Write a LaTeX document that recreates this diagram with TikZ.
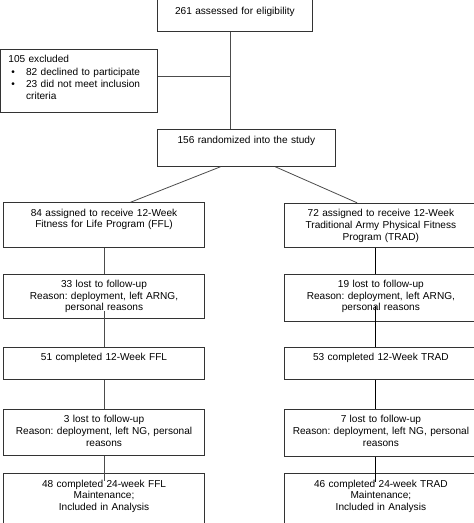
\documentclass[tikz,border=0pt]{standalone}
\usepackage{fontspec}
\setmainfont{Liberation Sans}
\frenchspacing
\begin{document}
\frenchspacing
\begin{tikzpicture}[x=1pt,y=-1pt,
  box/.style={draw=black!80, line width=0.8pt, inner xsep=0pt, inner ysep=0pt,
    align=center, anchor=north west, font=\fontsize{10.1}{11.7}\selectfont\frenchspacing, text height=13.5pt},
  link/.style={draw=black!70, line width=0.8pt},
  rlink/.style={draw=black, line width=0.8pt}]
\clip (0,0) rectangle (474,523);
\fill[white] (0,0) rectangle (474,523);

\node[box, text width=154.4pt, text height=19pt, text depth=17pt] (top) at (157.3,-5) {261 assessed for eligibility};
\node[box, align=left, inner xsep=7.5pt, text width=141.5pt, text depth=49.5pt,
  font=\fontsize{10.1}{12.2}\selectfont] (excl) at (0.5,49)
  {105 excluded\\
   \hspace*{3pt}\makebox[14.7pt][l]{\textbullet}82 declined to participate\\
   \hspace*{3pt}\makebox[14.7pt][l]{\textbullet}23 did not meet inclusion\\
   \hspace*{17.7pt}criteria};
\node[box, text width=178pt, text height=14.5pt, text depth=22.5pt] (rand) at (157,129) {156 randomized into the study};

\node[box, text width=200.7pt, text depth=30.9pt] (ffl) at (3.3,202.3) {84 assigned to receive 12-Week\\Fitness for Life Program (FFL)};
\node[box, text width=194pt, text depth=30.5pt] (trad) at (283.5,202.8) {72 assigned to receive 12-Week\\Traditional Army Physical Fitness\\Program (TRAD)};

\node[box, text width=200.7pt, text depth=31pt] (l33) at (3.3,273.5) {33 lost to follow-up\\Reason: deployment, left ARNG,\\personal reasons};
\node[box, text width=194pt, text depth=34pt] (l19) at (283.5,273.5) {19 lost to follow-up\\Reason: deployment, left ARNG,\\personal reasons};

\node[box, text width=200.7pt, text depth=19pt] (c51) at (3.3,346.5) {51 completed 12-Week FFL};
\node[box, text width=194pt, text depth=19pt] (c53) at (283.5,346.5) {53 completed 12-Week TRAD};

\node[box, text width=200.7pt, text depth=32.5pt] (l3) at (3.3,409) {3 lost to follow-up\\Reason: deployment, left NG, personal\\reasons};
\node[box, text width=194pt, text depth=33.5pt] (l7) at (283.5,409) {7 lost to follow-up\\Reason: deployment, left NG, personal\\reasons};

\node[box, text width=200.7pt, text depth=60pt] (c48) at (3.3,473.3) {48 completed 24-week FFL\\Maintenance;\\Included in Analysis};
\node[box, text width=194pt, text depth=60pt] (c46) at (283.5,473.3) {46 completed 24-week TRAD\\Maintenance;\\Included in Analysis};

\coordinate (v) at ([xshift=-5pt]top.south);
\draw[link] (v) -- (v |- rand.north);
\draw[link] ([yshift=4.5pt]excl.east) -- ([yshift=4.5pt]excl.east -| v);
\draw[link] ([xshift=-26pt]rand.south) -- ([xshift=26.35pt]ffl.north);
\draw[link] ([xshift=29pt]rand.south) -- ([xshift=-23.8pt]trad.north);

\draw[link] (ffl.south) -- (l33.north);
\draw[link] ([yshift=8pt]l33.south) -- (c51.north);
\draw[link] (c51.south) -- (l3.north);
\draw[link] (l3.south) -- ([yshift=-8pt]c48.north);

\draw[rlink] ([xshift=-5.5pt]trad.south) -- ([xshift=-5.5pt]l19.north);
\draw[rlink] ([xshift=-5.5pt,yshift=16pt]l19.south) -- ([xshift=-5.5pt]c53.north);
\draw[rlink] ([xshift=-5.5pt]c53.south) -- ([xshift=-5.5pt]l7.north);
\draw[rlink] ([xshift=-5.5pt]l7.south) -- ([xshift=-5.5pt,yshift=-9pt]c46.north);
\end{tikzpicture}
\end{document}
